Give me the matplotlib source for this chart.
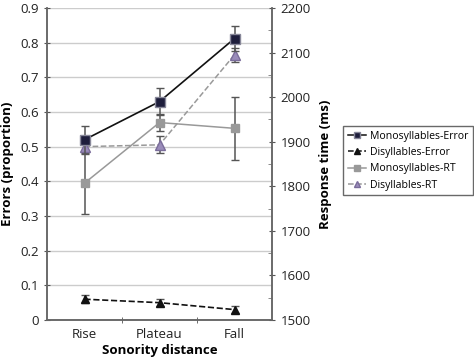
import matplotlib
matplotlib.use("Agg")
import matplotlib.pyplot as plt
import numpy as np
from matplotlib.ticker import MultipleLocator, FixedLocator
from matplotlib.lines import Line2D

plt.rcParams['font.family'] = ['Open Sans', 'DejaVu Sans']

categories = ["Rise", "Plateau", "Fall"]
mono_err = [0.52, 0.63, 0.812]
mono_err_e = [0.04, 0.04, 0.037]
di_err = [0.06, 0.05, 0.03]
di_err_e = [0.012, 0.01, 0.01]
mono_rt = [1807, 1943, 1930]
mono_rt_e = [69, 19, 70]
di_rt = [1889, 1893, 2095]
di_rt_e = [15, 19, 16]

fig = plt.figure(figsize=(4.74, 3.57), dpi=100)
ax = fig.add_axes([47/474, 37/357, 225/474, 312/357])
ax2 = ax.twinx()

x = np.arange(len(categories))
ecol = '#555555'

styles = {
    'Monosyllables-Error': dict(color='#111111', ls='-', marker='s', mfc='#1e1e3c', mec='#888899'),
    'Disyllables-Error': dict(color='#111111', ls='--', marker='^', mfc='#111111', mec='#111111'),
    'Monosyllables-RT': dict(color='#999999', ls='-', marker='s', mfc='#999999', mec='#999999'),
    'Disyllables-RT': dict(color='#999999', ls='--', marker='^', mfc='#9a8cba', mec='#7a6c9a'),
}

ax2.errorbar(x, mono_rt, yerr=mono_rt_e, ms=6, lw=1.1, ecolor=ecol, elinewidth=1.1,
             capsize=3, zorder=2, **styles['Monosyllables-RT'])
ax2.errorbar(x, di_rt, yerr=di_rt_e, ms=7, lw=1.1, ecolor=ecol, elinewidth=1.1,
             capsize=3, zorder=2, **styles['Disyllables-RT'])
ax2.errorbar(x, [1500 + v * 700 / 0.9 for v in mono_err],
             yerr=[e * 700 / 0.9 for e in mono_err_e], ms=7, lw=1.2, ecolor=ecol,
             elinewidth=1.1, capsize=3, zorder=3, **styles['Monosyllables-Error'])
ax2.errorbar(x, [1500 + v * 700 / 0.9 for v in di_err],
             yerr=[e * 700 / 0.9 for e in di_err_e], ms=6, lw=1.2, ecolor=ecol,
             elinewidth=1.1, capsize=3, zorder=3, **styles['Disyllables-Error'])

ax.set_xlim(-0.5, 2.5)
ax.set_ylim(0, 0.9)
ax2.set_ylim(1500, 2200)
ax.set_yticks(np.arange(0, 0.91, 0.1))
ax.set_yticklabels(['0'] + [f'{v:.1f}' for v in np.arange(0.1, 0.91, 0.1)])
ax2.yaxis.set_major_locator(MultipleLocator(100))
ax2.yaxis.set_minor_locator(MultipleLocator(50))

ax.set_xticks(x)
ax.set_xticklabels(categories)
ax.xaxis.set_minor_locator(FixedLocator([0.5, 1.5]))
ax.tick_params(axis='x', which='major', length=0, labelsize=9.5, pad=6, colors='#222222')
ax.tick_params(axis='x', which='minor', length=4, direction='inout', color='#555555')
ax.tick_params(axis='y', length=5, direction='inout', labelsize=9.5, color='#555555', labelcolor='#222222')
ax2.tick_params(axis='y', which='major', length=5, direction='inout', labelsize=9.5, color='#555555', labelcolor='#222222')
ax2.tick_params(axis='y', which='minor', length=3, direction='in', color='#777777')

ax.grid(axis='y', color='#cccccc', lw=1.0)
ax.set_axisbelow(True)
for s in ['left', 'right', 'bottom']:
    for a in (ax, ax2):
        a.spines[s].set_color('#666666')
        a.spines[s].set_linewidth(1.1)
ax.spines['top'].set_visible(False)
ax2.spines['top'].set_visible(False)

ax.set_xlabel('Sonority distance', fontsize=9.5, fontweight='bold', labelpad=2)
ax.set_ylabel('Errors (proportion)', fontsize=9.5, fontweight='bold', labelpad=4)
ax2.set_ylabel('Response time (ms)', fontsize=9.5, fontweight='bold', labelpad=6)

handles = [Line2D([], [], ms=4.5, lw=1.1, label=k, **v) for k, v in styles.items()]
leg = fig.legend(handles=handles, loc='upper left',
                 bbox_to_anchor=(343/474, 1 - 126/357), borderaxespad=0,
                 fontsize=7.6, frameon=True, fancybox=False, edgecolor='#444444',
                 handlelength=1.7, handletextpad=0.4, borderpad=0.45, labelspacing=0.5)
leg.get_frame().set_linewidth(1.0)

fig.savefig('out.png', dpi=100)
